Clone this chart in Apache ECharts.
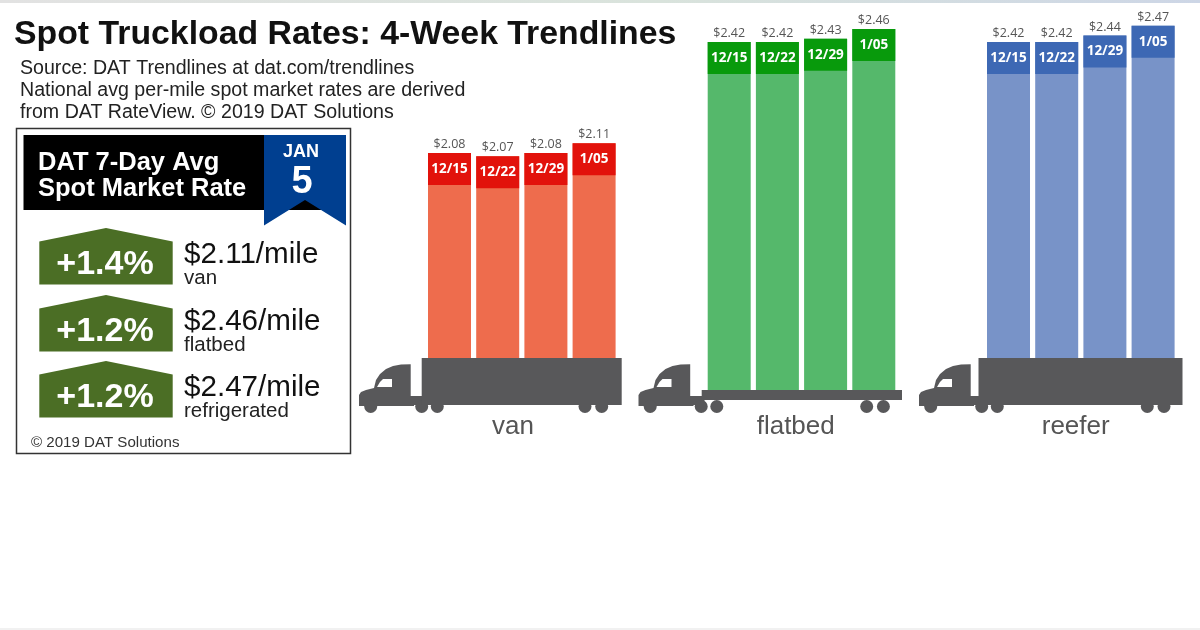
<!DOCTYPE html>
<html>
<head>
<meta charset="utf-8">
<style>html,body{margin:0;background:#fff}#main{width:1200px;height:630px}</style>
<script src="https://cdn.jsdelivr.net/npm/echarts@6/dist/echarts.min.js"></script>
</head>
<body>
<div id="main"></div>
<script>
var weeks = ['12/15', '12/22', '12/29', '1/05'];
var vanRates = [2.08, 2.07, 2.08, 2.11];
var flatbedRates = [2.42, 2.42, 2.43, 2.46];
var reeferRates = [2.42, 2.42, 2.44, 2.47];
var badgePcts = ['+1.4%', '+1.2%', '+1.2%'];
var badgeRates = ['$2.11/mile', '$2.46/mile', '$2.47/mile'];
var badgeNames = ['van', 'flatbed', 'refrigerated'];

var font = '"Liberation Sans", Arial, sans-serif';
var barFont = '"Open Sans", sans-serif';
var grids = [
    { left: 425.4, name: 'van', body: '#ee6c4d', cap: '#e2120b', data: vanRates },
    { left: 705.1, name: 'flatbed', body: '#55b86b', cap: '#089a0c', data: flatbedRates },
    { left: 984.4, name: 'reefer', body: '#7893c8', cap: '#3d68b4', data: reeferRates }
];
var BAR_W = 43, CAP_H = 32;
var TRUCK = '#58585a';

function capRenderer(cap) {
    return function (params, api) {
        var p = api.coord([api.value(0), api.value(1)]);
        return {
            type: 'group',
            children: [
                { type: 'rect', shape: { x: p[0] - BAR_W / 2, y: p[1], width: BAR_W, height: CAP_H }, style: { fill: cap } },
                { type: 'text', style: { x: p[0], y: p[1] + CAP_H / 2, text: weeks[params.dataIndex], align: 'center', verticalAlign: 'middle', fill: '#fff', font: 'bold 13.5px ' + barFont } }
            ]
        };
    };
}

var series = [], xAxes = [], yAxes = [], gridOpts = [];
grids.forEach(function (g, i) {
    gridOpts.push({ left: g.left, width: 192.8, top: 16, height: 375 });
    xAxes.push({ type: 'category', gridIndex: i, data: weeks, show: false });
    yAxes.push({ type: 'value', gridIndex: i, min: 1.35, max: 2.5, show: false });
    series.push({
        type: 'bar', xAxisIndex: i, yAxisIndex: i, data: g.data, barWidth: BAR_W, silent: true,
        itemStyle: { color: g.body },
        label: {
            show: true, position: 'top', distance: 2, color: '#555', fontFamily: barFont, fontSize: 12.5,
            formatter: function (p) { return '$' + p.value.toFixed(2); }
        }
    });
    series.push({
        type: 'custom', xAxisIndex: i, yAxisIndex: i, z: 3, silent: true,
        data: g.data.map(function (v, j) { return [j, v]; }),
        renderItem: capRenderer(g.cap)
    });
});

function txt(x, y, text, size, color, weight, align) {
    return {
        type: 'text', x: x, y: y + 1.5, z: 120,
        style: { text: text, fill: color, font: (weight || 'normal') + ' ' + size + 'px ' + font, align: align || 'left', verticalAlign: 'middle' }
    };
}
function poly(points, color, z) {
    return { type: 'polygon', z: z, shape: { points: points }, style: { fill: color } };
}
function wheel(x) {
    return { type: 'circle', z: 100, shape: { cx: x, cy: 406.5, r: 6.5 }, style: { fill: TRUCK } };
}

// cab outline as drawn for the van, shifted by dx for the other two trucks
var cabPoints = [[410.7, 364.3], [401, 364.6], [393, 366], [386, 369], [380, 374], [376, 380], [374, 388],
    [366, 390], [361, 392], [359, 395], [359, 406], [414, 406], [414, 396], [410.7, 396]];
var windowPoints = [[377, 387], [392, 387], [392, 379], [383, 379], [380, 382]];
function truck(dx, rearDx) {
    function shift(pts) { return pts.map(function (p) { return [p[0] + dx, p[1]]; }); }
    return [
        poly(shift(cabPoints), TRUCK, 100),
        poly(shift([[410, 396], [425, 396], [425, 405], [410, 405]]), TRUCK, 100),
        poly(shift(windowPoints), '#fff', 101),
        wheel(370.7 + dx), wheel(421.7 + dx), wheel(437.3 + dx), wheel(585 + rearDx), wheel(601.7 + rearDx)
    ];
}

var elements = [
    { type: 'rect', z: 1, shape: { x: 0, y: 0, width: 1200, height: 3 }, style: { fill: { type: 'linear', x: 0, y: 0, x2: 1, y2: 0, colorStops: [{ offset: 0, color: '#e2e2e2' }, { offset: 0.55, color: '#d9e3dc' }, { offset: 1, color: '#cdd6e6' }] } } },
    { type: 'rect', z: 1, shape: { x: 0, y: 628, width: 1200, height: 2 }, style: { fill: '#f1f1f1' } },
    txt(20, 67, 'Source: DAT Trendlines at dat.com/trendlines', 19.6, '#222'),
    txt(20, 89, 'National avg per-mile spot market rates are derived', 19.6, '#222'),
    txt(20, 111, 'from DAT RateView. \u00a9 2019 DAT Solutions', 19.6, '#222'),
    { type: 'rect', z: 90, shape: { x: 16.5, y: 128.5, width: 334, height: 325 }, style: { fill: '#fff', stroke: '#333', lineWidth: 1.5 } },
    { type: 'rect', z: 91, shape: { x: 23.5, y: 135, width: 322, height: 75 }, style: { fill: '#000' } },
    poly([[264, 135], [346, 135], [346, 225.5], [305, 200], [264, 225.5]], '#003f90', 92),
    txt(38, 161, 'DAT 7-Day Avg', 25.5, '#fff', 'bold'),
    txt(38, 187, 'Spot Market Rate', 25.5, '#fff', 'bold'),
    txt(301, 151, 'JAN', 18, '#fff', 'bold', 'center'),
    txt(302, 181, '5', 38, '#fff', 'bold', 'center'),
    txt(31, 441, '\u00a9 2019 DAT Solutions', 15.1, '#333')
];
var badgeTops = [228, 295, 361];
badgePcts.forEach(function (pct, i) {
    var t = badgeTops[i];
    elements.push(poly([[106, t], [172.7, t + 13.5], [172.7, t + 56.5], [39.3, t + 56.5], [39.3, t + 13.5]], '#4b6e25', 92));
    elements.push(txt(105, t + 35, pct, 34, '#fff', 'bold', 'center'));
    elements.push(txt(184, t + 25, badgeRates[i], 29.6, '#111'));
    elements.push(txt(184, t + 49, badgeNames[i], 20.5, '#222'));
});
elements = elements.concat(truck(0, 0), truck(279.5, 281.7), truck(560, 562.3));
elements.push({ type: 'rect', z: 100, shape: { x: 421.7, y: 358, width: 200, height: 47 }, style: { fill: TRUCK } });
elements.push({ type: 'rect', z: 100, shape: { x: 701.7, y: 390, width: 200.3, height: 10 }, style: { fill: TRUCK } });
elements.push({ type: 'rect', z: 100, shape: { x: 978.5, y: 358, width: 204, height: 47 }, style: { fill: TRUCK } });
elements.push(txt(513, 425, 'van', 26, '#555', 'normal', 'center'));
elements.push(txt(795.7, 425, 'flatbed', 26, '#555', 'normal', 'center'));
elements.push(txt(1075.7, 425, 'reefer', 26, '#555', 'normal', 'center'));

var myChart = echarts.init(document.getElementById('main'));
myChart.setOption({
    animation: false,
    backgroundColor: '#fff',
    title: {
        text: 'Spot Truckload Rates: 4-Week Trendlines',
        left: 9, top: 13,
        textStyle: { fontFamily: font, fontSize: 33.8, fontWeight: 'bold', color: '#111' }
    },
    grid: gridOpts,
    xAxis: xAxes,
    yAxis: yAxes,
    series: series,
    graphic: { elements: elements }
});
</script>
</body>
</html>
